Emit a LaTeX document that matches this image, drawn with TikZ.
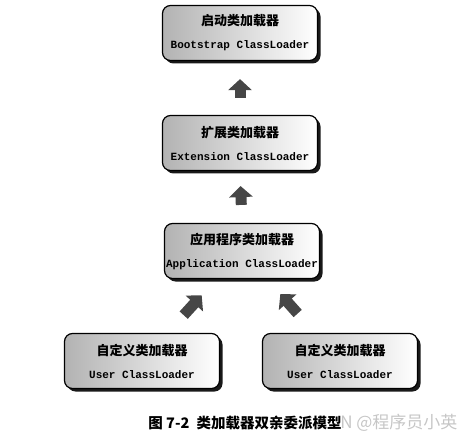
\documentclass[tikz,border=0pt]{standalone}
\usepackage{fontspec}
\setmonofont{Liberation Mono}
\newfontfamily\cjk{Noto Sans CJK SC}
\usetikzlibrary{shadows,arrows.meta}

\begin{document}
\begin{tikzpicture}[x=1pt,y=-1pt,
    loader/.style={draw=black,line width=1.2pt,rounded corners=8pt,
      minimum width=155pt,minimum height=55pt,inner sep=0pt,
      left color=gray!60,right color=white,
      drop shadow={shadow xshift=3pt,shadow yshift=-3pt,fill=black,opacity=.9},
      align=center,font=\ttfamily\bfseries\fontsize{11}{23}\selectfont},
    up/.style={line width=11pt,draw=gray!55!black,-{Triangle[width=23pt,length=11pt]}}]
  \useasboundingbox (0,0) rectangle (474,441);
  \node[loader] (boot) at (240,33) {{\cjk\fontsize{13}{23}\selectfont 启动类加载器}\\Bootstrap ClassLoader};
  \node[loader] (ext) at (240,143) {{\cjk\fontsize{13}{23}\selectfont 扩展类加载器}\\Extension ClassLoader};
  \node[loader] (app) at (242,251) {{\cjk\fontsize{13}{23}\selectfont 应用程序类加载器}\\Application ClassLoader};
  \node[loader] (user1) at (142,361) {{\cjk\fontsize{13}{23}\selectfont 自定义类加载器}\\User ClassLoader};
  \node[loader] (user2) at (340,361) {{\cjk\fontsize{13}{23}\selectfont 自定义类加载器}\\User ClassLoader};
  \draw[up,shorten <=17pt,shorten >=18pt] (ext.north) -- (boot.south);
  \draw[up,shorten <=18pt,shorten >=15pt] (app.north) -- (ext.south);
  \draw[up,shorten <=24pt,shorten >=22pt] (user1) -- (app);
  \draw[up,shorten <=26pt,shorten >=20pt] (user2) -- (app);
  \node[font=\cjk\bfseries\fontsize{14.5}{17}\selectfont] (caption) at (245,423) {图 7-2\enspace 类加载器双亲委派模型};
  \node[anchor=east,text=gray!45,font=\cjk\fontsize{17}{20}\selectfont] (mark) at (461,423) {N @程序员小英};
\end{tikzpicture}
\end{document}
